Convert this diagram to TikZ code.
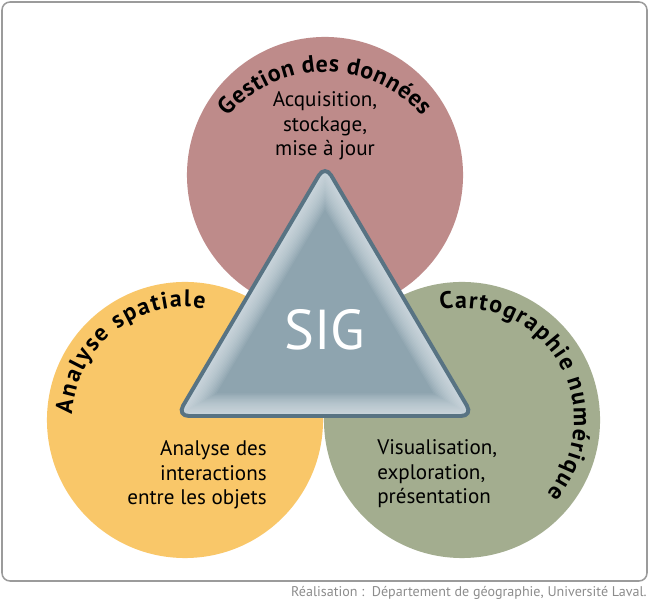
\documentclass[tikz,border=0pt]{standalone}
\usepackage{fontspec}
\setmainfont{PT Sans}
\usetikzlibrary{decorations.text}
\definecolor{sigRose}{RGB}{190,139,138}
\definecolor{sigOrange}{RGB}{249,199,105}
\definecolor{sigGreen}{RGB}{163,173,143}
\definecolor{sigSlate}{RGB}{142,164,175}
\definecolor{sigEdge}{RGB}{88,115,131}
\definecolor{sigGlow}{RGB}{230,237,242}
\definecolor{frameGray}{RGB}{155,155,155}
\definecolor{creditGray}{RGB}{140,140,140}

\begin{document}
\begin{tikzpicture}[x=0.025cm,y=0.025cm,
    disc/.style={circle,minimum size=6.9cm,inner sep=0pt},
    body/.style={font=\fontsize{15}{17.5}\selectfont,inner sep=0pt},
    arclabel/.style={decorate,decoration={text along path,text align={fit to path},
        text={|\fontsize{17}{17}\selectfont\bfseries|#1}}},
    sigborder/.style={rounded corners=0.3cm}
  ]
    \useasboundingbox (0,0) rectangle (650,603);
    \draw[frameGray,fill=white,line width=1.1pt,rounded corners=0.2cm] (2,22) rectangle (647,601);

    % les trois cercles
    \node[disc,fill=sigRose] (gestion) at (325,428) {};
    \node[disc,fill=sigOrange] (analyse) at (185,183) {};
    \node[disc,fill=sigGreen] (carto) at (462,183) {};

    % titres en arc
    \path[arclabel=Gestion des données] (227.6,486.6) arc[start angle=139,end angle=41,radius=129];
    \path[arclabel=Analyse spatiale] (72.2,188.9) arc[start angle=177,end angle=80,radius=113];
    \path[arclabel=Cartographie numérique] (440.6,292.9) arc[start angle=101,end angle=-41,radius=112];

    \node[body,align=center] (acq) at (325,477) {Acquisition,\\stockage,\\mise à jour};
    \node[body,align=right,anchor=east] (inter) at (267,128) {Analyse des\\interactions\\entre les objets};
    \node[body,align=left,anchor=west] (visu) at (377,129) {Visualisation,\\exploration,\\présentation};

    % triangle SIG
    \coordinate (sigTop) at (325,438);
    \coordinate (sigRight) at (473,187);
    \coordinate (sigLeft) at (177,187);
    \begin{scope}
      \clip[sigborder] (sigTop) -- (sigRight) -- (sigLeft) -- cycle;
      \fill[sigSlate] (sigTop) -- (sigRight) -- (sigLeft) -- cycle;
      \foreach \w in {2,4,...,32}
        \draw[sigGlow,line width=\w pt,opacity=0.08,sigborder] (sigTop) -- (sigRight) -- (sigLeft) -- cycle;
    \end{scope}
    \draw[sigEdge,line width=2.8pt,sigborder] (sigTop) -- (sigRight) -- (sigLeft) -- cycle;
    \node[text=white,font=\fontsize{40}{40}\selectfont] (sig) at (325,273) {SIG};

    \node[text=creditGray,font=\fontsize{10}{10}\selectfont,anchor=base east,inner sep=0pt] (credit) at (647,6)
      {Réalisation :\ \ Département de géographie, Université Laval.};
\end{tikzpicture}
\end{document}
